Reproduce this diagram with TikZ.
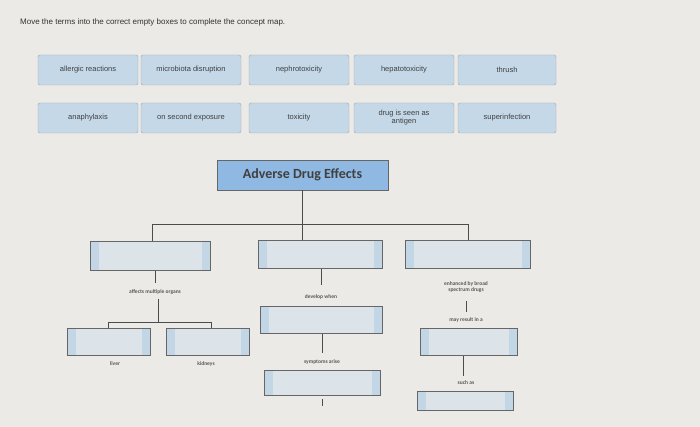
\documentclass[tikz,border=0pt]{standalone}
\usepackage{fontspec}
\setmainfont{Liberation Sans}
\newfontfamily\carlitofont{Carlito}
\begin{document}
\begin{tikzpicture}[x=1pt,y=-1pt,
  term/.style={draw=gray!70,fill=termblue,rounded corners=2pt,minimum height=30pt,font=\fontsize{7.5}{8}\selectfont,text=black!75,align=center,inner sep=1pt},
  slot/.style={draw=gray!80!black,line width=0.8pt,fill=slotfill},
  lab/.style={font=\carlitofont\bfseries\fontsize{5.5}{6.5}\selectfont,text=black!65,align=center,inner sep=0pt},
  ln/.style={draw=black!70,line width=1pt}]
\definecolor{bg}{HTML}{ECEAE6}
\definecolor{termblue}{HTML}{C4D8E8}
\definecolor{slotfill}{HTML}{DCE4EA}
\definecolor{capblue}{HTML}{C2D6E6}
\definecolor{rootblue}{HTML}{8FB9E2}
\fill[bg] (0,0) rectangle (700,427);
\useasboundingbox (0,0) rectangle (700,427);
\node[anchor=west,font=\fontsize{8}{9}\selectfont,text=black!80,inner sep=0pt] (instr) at (20,22) {Move the terms into the correct empty boxes to complete the concept map.};
% terms
\foreach \n/\x/\w/\y/\t in {a/88/100/70/allergic reactions, b/191/100/70/microbiota disruption, c/299/100/70/nephrotoxicity, d/404/100/70/hepatotoxicity, e/507/98/70/thrush,
  f/88/100/118/anaphylaxis, g/191/100/118/on second exposure, h/299/100/118/toxicity, i/404/100/118/{drug is seen as\\antigen}, j/507/98/118/superinfection}
  \node[term,minimum width=\w pt] (\n) at (\x,\y) {\t};
% root
\node[draw=gray!80!black,fill=rootblue,minimum width=171pt,minimum height=30pt,font=\carlitofont\bfseries\fontsize{14}{15}\selectfont,text=black!75,inner sep=0pt] (root) at (302.5,175) {Adverse Drug Effects};
\newcommand{\slotbox}[5]{% name, x1,y1,x2,y2
  \node[slot,minimum width=#4-#2,minimum height=#5-#3,inner sep=0pt,anchor=north west] (#1) at (#2,#3) {};
  \fill[capblue] ([xshift=0.5pt,yshift=-0.5pt]#1.north west) rectangle ([xshift=9pt,yshift=0.5pt]#1.south west);
  \fill[capblue] ([xshift=-9pt,yshift=-0.5pt]#1.north east) rectangle ([xshift=-0.5pt,yshift=0.5pt]#1.south east);
  \draw[gray!80!black,line width=0.8pt] (#1.north west) rectangle (#1.south east);}
\slotbox{L}{90}{241}{210}{270}
\slotbox{M}{258}{240}{382}{268}
\slotbox{R}{405}{240}{530}{268}
\slotbox{L1}{67}{328}{150}{355}
\slotbox{L2}{166}{328}{249}{355}
\slotbox{M1}{260}{306}{382}{333}
\slotbox{M2}{264}{370}{380}{395}
\slotbox{R1}{420}{328}{517}{355}
\slotbox{R2}{417}{391}{513}{410}
% labels
\node[lab] (lamo) at (155,292) {affects multiple organs};
\node[lab] (lliv) at (115,364) {liver};
\node[lab] (lkid) at (206,364) {kidneys};
\node[lab] (ldev) at (321,297) {develop when};
\node[lab] (lsym) at (322,362) {symptoms arise};
\node[lab] (lenh) at (466,287) {enhanced by broad\\spectrum drugs};
\node[lab] (lmay) at (466,320) {may result in a};
\node[lab] (lsuch) at (466,383) {such as};
% connectors
\coordinate (j0) at (root.south |- 0,225);
\draw[ln] (root.south) -- (j0);
\draw[ln] (L.north -| 152,0) -- (152,225) -- (468,225) -- (R.north -| 468,0);
\draw[ln] (j0) -- (M.north -| j0);
\draw[ln] (L.south -| 155,0) -- ++(0,12);
\draw[ln] (lamo.south -| 158,0) ++(0,4) -- (158,322);
\draw[ln] (L1.north -| 108,0) -- (108,322) -- (211,322) -- (L2.north -| 211,0);
\draw[ln] (M.south -| 321,0) -- ++(0,16);
\draw[ln] (M1.south -| 322,0) -- ++(0,19);
\draw[ln] (M2.south -| 322,0) ++(0,3) -- ++(0,7);
\draw[ln] (466,301) -- (466,312);
\draw[ln] (R1.south -| 463,0) -- ++(0,20);
\end{tikzpicture}
\end{document}
